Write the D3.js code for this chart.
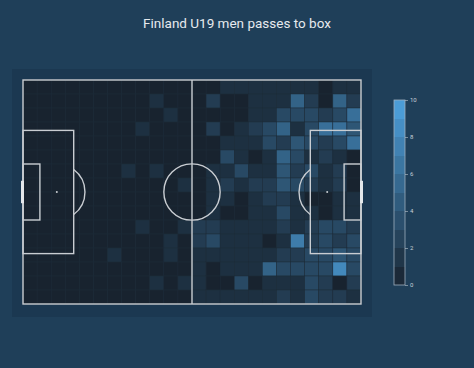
<!DOCTYPE html>
<html>
<head>
<meta charset="utf-8">
<script src="https://cdn.jsdelivr.net/npm/d3@7"></script>
<style>
  html, body { margin: 0; padding: 0; background: #1f3f59; }
  svg { display: block; }
</style>
</head>
<body>
<div id="chart"></div>
<script>
var width = 474, height = 368;

var chartTitle = "Finland U19 men passes to box";

// pass counts per 5x5 bin (statsbomb 120x80 pitch), 16 rows x 24 columns, top row first
var binCounts = [
  [0,0,0,0,0,0,0,0,0,0,0,0, 0,0,1,1,1,1, 1,1,1,0,1,1],
  [0,0,0,0,0,0,0,0,0,1,0,0, 0,2,0,0,1,1, 1,5,2,0,5,2],
  [0,0,0,0,0,0,0,0,0,0,1,0, 0,0,0,0,1,1, 3,3,3,2,3,6],
  [0,0,0,0,0,0,0,0,1,0,0,0, 0,2,0,1,2,3, 5,1,3,6,6,4],
  [0,0,0,0,0,0,0,0,0,0,0,0, 0,0,1,1,1,3, 2,4,3,2,3,6],
  [0,0,0,0,0,0,0,0,0,0,0,0, 0,0,3,1,0,1, 5,3,1,2,1,0],
  [0,0,0,0,0,0,0,1,0,1,0,0, 0,1,1,3,1,1, 4,2,3,1,2,0],
  [0,0,0,0,0,0,0,0,0,0,0,1, 0,1,2,1,2,2, 4,3,2,1,2,0],
  [0,0,0,0,0,0,0,0,0,0,0,0, 0,1,1,0,1,2, 2,1,0,0,1,1],
  [0,0,0,0,0,0,0,0,0,0,0,0, 0,1,0,0,1,1, 3,1,1,0,1,1],
  [0,0,0,0,0,0,0,0,1,0,0,1, 2,2,1,1,1,1, 2,1,2,3,3,2],
  [0,0,0,0,0,0,0,0,0,0,1,0, 2,3,1,1,1,0, 1,7,2,3,2,3],
  [0,0,0,0,0,0,1,0,0,0,1,0, 1,1,1,1,1,1, 2,2,3,3,4,3],
  [0,0,0,0,0,0,0,0,0,0,0,0, 1,0,1,1,1,5, 3,3,3,3,8,3],
  [0,0,0,0,0,0,0,0,0,1,0,1, 1,0,0,3,0,1, 1,1,3,2,0,2],
  [0,0,0,0,0,0,0,0,0,0,0,0, 1,1,1,1,1,1, 2,1,3,2,2,1]
];

var colorTicks = [0, 2, 4, 6, 8, 10];
var binSize = 5;

var svg = d3.select("#chart").append("svg")
    .attr("width", width)
    .attr("height", height);

svg.append("rect").attr("width", width).attr("height", height).attr("fill", "#1f3f59");

// darker panel behind the pitch
svg.append("rect")
    .attr("x", 12).attr("y", 69).attr("width", 360).attr("height", 248)
    .attr("fill", "#1b3851");

svg.append("text")
    .attr("x", 237).attr("y", 28)
    .attr("text-anchor", "middle")
    .style("font-family", "Roboto, sans-serif")
    .style("font-size", "13.5px")
    .style("fill", "#e6eaee")
    .text(chartTitle);

var x = d3.scaleLinear().domain([0, 120]).range([23, 361]);
var y = d3.scaleLinear().domain([0, 80]).range([80, 304]);

var color = d3.scaleLinear().domain([0, 10]).range(["#18232f", "#4ea2df"]);

var cells = [];
binCounts.forEach(function(row, j) {
  row.forEach(function(v, i) {
    cells.push({ col: i, row: j, value: v });
  });
});

var g = svg.append("g");

g.selectAll("rect.bin")
    .data(cells)
    .enter().append("rect")
    .attr("class", "bin")
    .attr("x", function(d) { return x(d.col * binSize); })
    .attr("y", function(d) { return y(d.row * binSize); })
    .attr("width", x(binSize) - x(0))
    .attr("height", y(binSize) - y(0))
    .attr("fill", function(d) { return color(d.value); })
    .attr("stroke", "#1e2c39")
    .attr("stroke-width", 0.5);

// pitch markings
var lineColor = "#c9cdd2";
var lines = svg.append("g")
    .attr("fill", "none")
    .attr("stroke", lineColor)
    .attr("stroke-width", 1.4);

function box(x0, y0, x1, y1) {
  lines.append("rect")
      .attr("x", x(x0)).attr("y", y(y0))
      .attr("width", x(x1) - x(x0)).attr("height", y(y1) - y(y0));
}

box(0, 0, 120, 80);
box(0, 18, 18, 62);
box(102, 18, 120, 62);
box(0, 30, 6, 50);
box(114, 30, 120, 50);

lines.append("line")
    .attr("x1", x(60)).attr("x2", x(60))
    .attr("y1", y(0)).attr("y2", y(80));

var r = x(10) - x(0);
lines.append("circle").attr("cx", x(60)).attr("cy", y(40)).attr("r", r);

// penalty arcs
var arc = d3.arc().innerRadius(r).outerRadius(r);
var a = Math.acos(6 / 10);
lines.append("path")
    .attr("transform", "translate(" + x(12) + "," + y(40) + ")")
    .attr("d", arc({ startAngle: Math.PI / 2 - a, endAngle: Math.PI / 2 + a }));
lines.append("path")
    .attr("transform", "translate(" + x(108) + "," + y(40) + ")")
    .attr("d", arc({ startAngle: -Math.PI / 2 - a, endAngle: -Math.PI / 2 + a }));

// penalty spots
[12, 108].forEach(function(px) {
  svg.append("circle").attr("cx", x(px)).attr("cy", y(40)).attr("r", 1).attr("fill", lineColor);
});

// goals
[[x(0) - 2, 0], [x(120) - 1, 0]].forEach(function(gp) {
  svg.append("rect")
      .attr("x", gp[0]).attr("y", y(36))
      .attr("width", 3).attr("height", y(44) - y(36))
      .attr("fill", "#e4e7ea");
});

// colorbar
var cbX = 394, cbW = 11;
var cb = d3.scaleLinear().domain([0, 10]).range([285, 100]);

var defs = svg.append("defs");
var grad = defs.append("linearGradient")
    .attr("id", "cbGrad")
    .attr("x1", 0).attr("y1", 1).attr("x2", 0).attr("y2", 0);
d3.range(0, 10).forEach(function(k) {
  grad.append("stop").attr("offset", k / 10).attr("stop-color", color(k + 0.5));
  grad.append("stop").attr("offset", (k + 1) / 10).attr("stop-color", color(k + 0.5));
});

svg.append("rect")
    .attr("x", cbX).attr("y", cb(10))
    .attr("width", cbW).attr("height", cb(0) - cb(10))
    .attr("fill", "url(#cbGrad)")
    .attr("stroke", "#9fb0bf")
    .attr("stroke-width", 0.8);

var axis = d3.axisRight(cb).tickValues(colorTicks).tickSize(3).tickPadding(2);
var ax = svg.append("g")
    .attr("transform", "translate(" + (cbX + cbW) + ",0)")
    .call(axis);
ax.select(".domain").remove();
ax.selectAll("line").attr("stroke", "#b8c2cb").attr("stroke-width", 0.6);
ax.selectAll("text")
    .style("font-family", "Roboto, sans-serif")
    .style("font-size", "6px")
    .style("fill", "#c8d0d8");
</script>
</body>
</html>
